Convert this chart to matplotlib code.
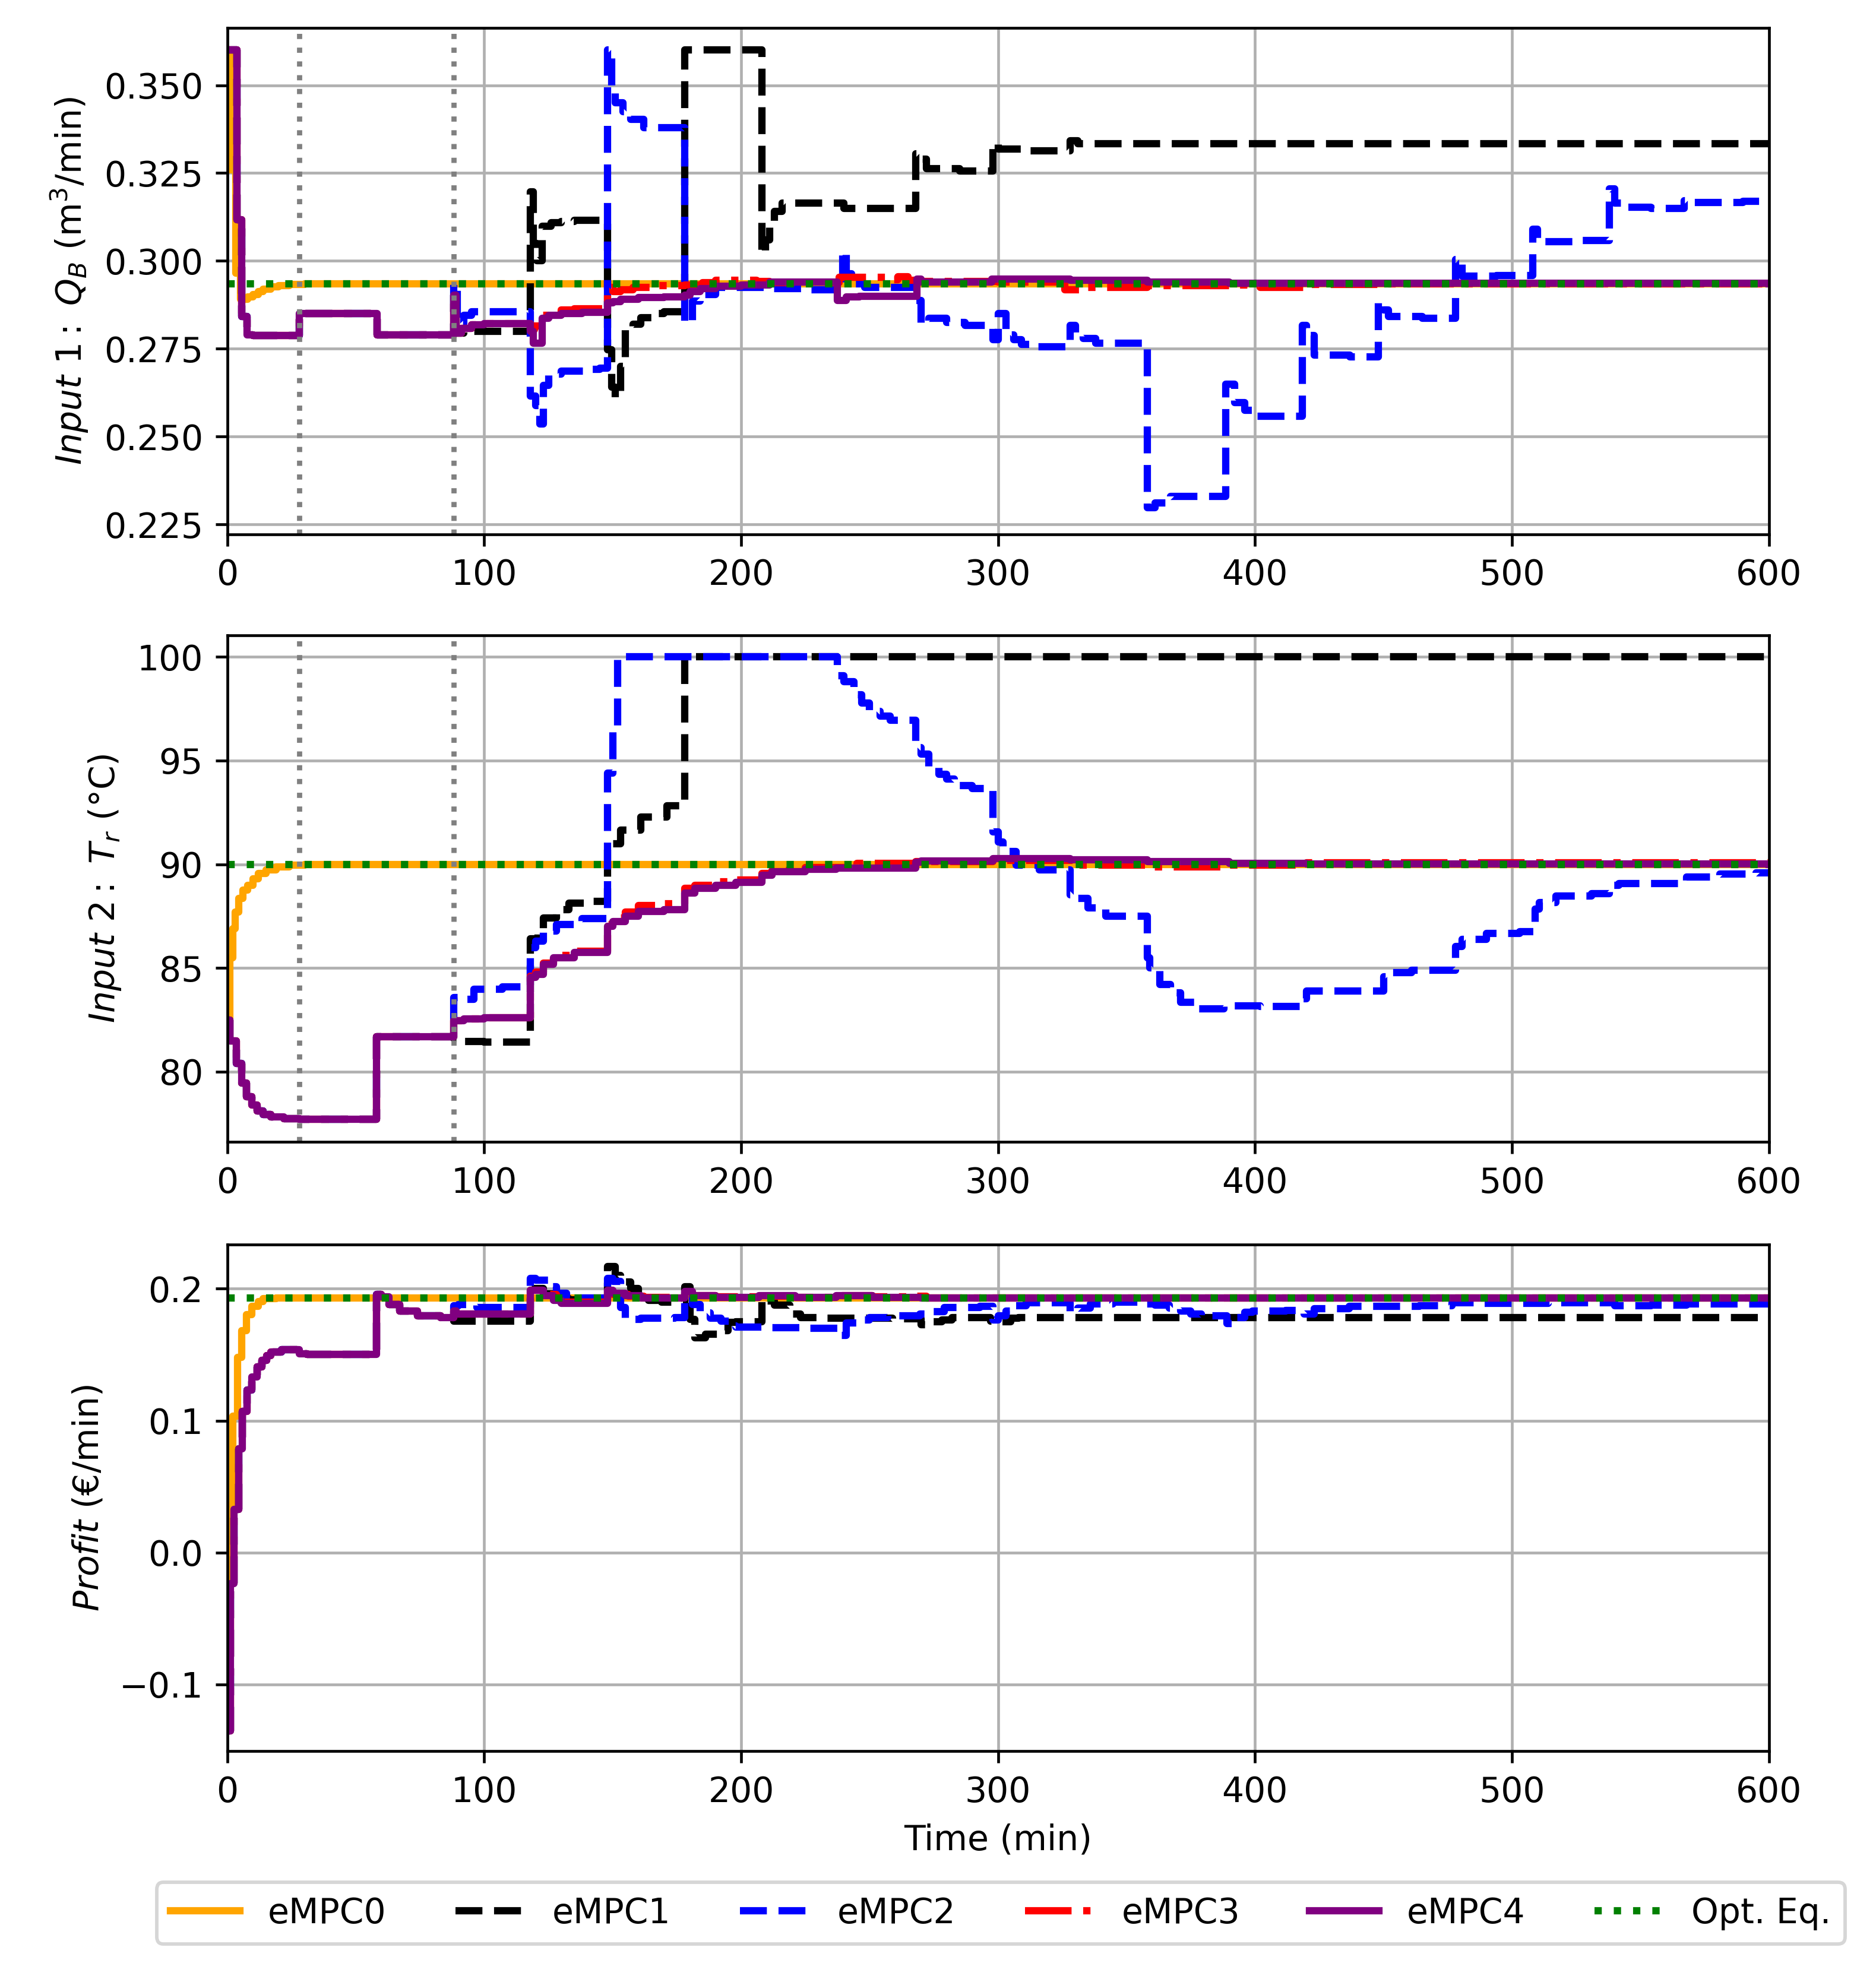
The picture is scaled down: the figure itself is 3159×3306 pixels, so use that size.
import numpy as np
import matplotlib.pyplot as plt

# ---------------- Input 1 : Q_B (m3/min) ----------------
q_opt = 0.2935

q0_t = [0, 1.3, 3.2, 5, 8, 10, 12, 14, 17, 20, 24, 30, 600]
q0_v = [0.360, 0.326, 0.2965, 0.2890, 0.2897, 0.2905, 0.2913, 0.2920, 0.2926, 0.2930, 0.2933, 0.2935, 0.2935]

q4_t = [0, 3.8, 5.5, 7.7, 10, 28, 58.3, 88, 89, 91, 95, 100, 118, 119, 122.5, 125, 130, 138,
        148, 150, 153, 160, 170, 178, 180, 184, 190, 200, 211, 237.5, 241, 246, 268.5, 270,
        297.5, 328, 358, 390, 420, 600]
q4_v = [0.360, 0.3117, 0.2841, 0.2789, 0.2788, 0.2850, 0.2790, 0.2902, 0.2795, 0.2808, 0.2818, 0.2821,
        0.2800, 0.2765, 0.2836, 0.2845, 0.2851, 0.2854, 0.2880, 0.2884, 0.2890, 0.2895, 0.2898,
        0.2903, 0.2912, 0.2922, 0.2928, 0.2932, 0.2940, 0.2888, 0.2897, 0.2900, 0.2949, 0.2940,
        0.2949, 0.2944, 0.2940, 0.2937, 0.2936, 0.2935]

q3_t = [88, 89, 91, 95, 100, 118, 119.5, 122, 125, 130, 135, 148, 150, 153, 158, 165, 178, 185,
        190, 206, 211, 238, 257, 261, 265, 270, 300, 326, 334, 358, 390, 402, 420, 450, 600]
q3_v = [0.2902, 0.2795, 0.2808, 0.2818, 0.2821, 0.2805, 0.2815, 0.2845, 0.2853, 0.2860, 0.2864,
        0.2925, 0.2912, 0.2918, 0.2925, 0.2930, 0.2932, 0.2938, 0.2944, 0.2942, 0.2938, 0.2953,
        0.2946, 0.2955, 0.2945, 0.2942, 0.2940, 0.2918, 0.2925, 0.2930, 0.2932, 0.2925, 0.2933,
        0.2935, 0.2935]

q1_t = [88, 89, 92, 118, 119, 120.5, 122.5, 126, 130, 135, 148, 149.5, 151, 153, 155, 158, 161,
        165, 170, 178, 208, 209.5, 211, 213, 216, 240, 268, 270, 272, 285, 298, 300, 310, 328, 331, 600]
q1_v = [0.2902, 0.2795, 0.2800, 0.3197, 0.3050, 0.3000, 0.3099, 0.3108, 0.3113, 0.3115, 0.2747,
        0.2640, 0.2611, 0.2700, 0.2803, 0.2820, 0.2838, 0.2850, 0.2855, 0.3600, 0.3019, 0.3060,
        0.3113, 0.3141, 0.3164, 0.3150, 0.3305, 0.3290, 0.3263, 0.3256, 0.3333, 0.3319, 0.3314,
        0.3342, 0.3333, 0.3333]

q2_t = [88, 89.5, 92, 95, 118, 120, 121.5, 123, 125, 130, 140, 145, 148, 149.5, 151, 154, 157,
        162, 178, 181, 184, 190, 212, 226, 239.5, 241, 243, 248, 268, 270, 273, 280, 287, 298, 300,
        303, 306, 309, 315, 328, 330, 333, 338, 358, 361, 367, 388.5, 392, 396, 400, 418.5, 420,
        423, 437, 448, 450, 452, 465, 478, 480.5, 494, 508, 510, 513, 524, 538, 540, 543, 554,
        567, 570, 590, 598, 600]
q2_v = [0.2935, 0.2822, 0.2845, 0.2855, 0.2616, 0.2588, 0.2536, 0.2645, 0.2677, 0.2686, 0.2691,
        0.2695, 0.3600, 0.3497, 0.3450, 0.3425, 0.3403, 0.3380, 0.2825, 0.2885, 0.2905, 0.2925,
        0.2921, 0.2918, 0.3028, 0.2963, 0.2935, 0.2925, 0.2888, 0.2822, 0.2836, 0.2825, 0.2817,
        0.2775, 0.2850, 0.2790, 0.2775, 0.2762, 0.2756, 0.2817, 0.2790, 0.2780, 0.2766, 0.2297,
        0.2311, 0.2330, 0.2649, 0.2597, 0.2575, 0.2558, 0.2817, 0.2788, 0.2731, 0.2727, 0.2884,
        0.2860, 0.2841, 0.2837, 0.3004, 0.2956, 0.2958, 0.3090, 0.3060, 0.3054, 0.3058, 0.3206,
        0.3165, 0.3153, 0.3149, 0.3171, 0.3167, 0.3170, 0.3175, 0.3175]

# ---------------- Input 2 : T_r (°C) ----------------
t_opt = 90.0

t0_t = [0, 1, 2, 3, 4.5, 6, 8, 10, 12, 15, 19, 24, 30, 600]
t0_v = [82.5, 85.5, 86.9, 87.7, 88.35, 88.75, 89.0, 89.3, 89.55, 89.72, 89.88, 89.96, 90.0, 90.0]

t4_t = [0, 1, 3.5, 5.5, 7.5, 9.5, 11.5, 14, 17, 22, 28, 58, 88, 92, 100, 118, 120, 123, 127, 135,
        148, 150, 155, 160, 170, 178, 182, 190, 198, 208, 212, 225, 237, 268, 270, 298, 328, 358,
        390, 420, 600]
t4_v = [82.5, 81.5, 80.4, 79.45, 78.8, 78.4, 78.1, 77.93, 77.82, 77.75, 77.72, 81.7, 82.45, 82.55,
        82.6, 84.55, 84.7, 85.18, 85.5, 85.74, 87.0, 87.25, 87.5, 87.73, 87.8, 88.6, 88.84, 89.0,
        89.12, 89.48, 89.64, 89.77, 89.83, 90.1, 90.15, 90.28, 90.23, 90.12, 90.05, 90.02, 90.0]

t3_t = [88, 92, 100, 118, 120, 123, 127, 135, 148, 150, 155, 160, 170, 178, 182, 190, 198, 208,
        212, 225, 245, 268, 298, 330, 358, 390, 420, 600]
t3_v = [82.45, 82.55, 82.6, 84.6, 84.8, 85.25, 85.6, 85.82, 87.1, 87.4, 87.7, 88.0, 88.1, 88.85,
        89.0, 89.15, 89.24, 89.55, 89.7, 89.85, 90.05, 90.12, 90.2, 89.95, 89.88, 89.95, 90.08, 90.08]

t1_t = [88, 92, 100, 118, 121, 123, 128, 133, 140, 148, 150, 153, 161, 171, 178, 600]
t1_v = [81.6, 81.45, 81.43, 86.4, 86.7, 87.4, 87.8, 88.14, 88.21, 90.84, 91.0, 91.64, 92.27, 92.83,
        100.0, 100.0]

t2_t = [88, 90, 96, 107, 118, 120, 123, 128, 138, 148, 150, 152, 237.5, 240, 244, 247, 250, 254,
        258, 268, 270, 273, 277, 280, 283, 290, 298, 300, 302, 307, 316, 328, 331, 335, 342, 358,
        359, 363, 367, 371, 378, 388, 402, 417.6, 420, 450, 452, 461, 478, 480.5, 490, 503, 509,
        510.7, 517, 531, 538, 541.5, 568, 581, 595, 600]
t2_v = [83.58, 83.5, 83.98, 84.1, 85.98, 86.3, 86.77, 87.1, 87.38, 94.4, 96.5, 100.0, 99.1, 98.8,
        98.17, 97.77, 97.37, 97.13, 96.94, 95.62, 95.3, 94.66, 94.34, 94.1, 93.78, 93.66, 91.55,
        91.08, 90.63, 89.96, 89.72, 88.53, 88.37, 87.89, 87.49, 85.5, 85.02, 84.22, 83.82, 83.35,
        83.03, 83.19, 83.15, 83.53, 83.89, 84.59, 84.78, 84.88, 86.05, 86.38, 86.66, 86.76, 87.85,
        88.17, 88.48, 88.58, 88.99, 89.07, 89.4, 89.53, 89.59, 89.59]

# ---------------- Profit (€/min) ----------------
p_opt = 0.193

p0_t = [0, 0.9, 2, 4, 5.5, 7.5, 9.5, 12, 14, 19, 600]
p0_v = [-0.135, 0.036, 0.1035, 0.148, 0.168, 0.1806, 0.1868, 0.1905, 0.1925, 0.193, 0.193]

p4_t = [0, 1.3, 2.6, 4.5, 5.8, 7.7, 9.6, 11.5, 13.5, 15.4, 17, 21, 28, 31, 58, 60, 63, 67, 74, 83,
        88, 89, 118, 123, 127, 130, 148, 150, 155, 161, 178, 181, 190, 207, 221, 237, 251, 270, 600]
p4_v = [-0.1353, -0.0234, 0.0326, 0.0786, 0.1072, 0.1234, 0.1333, 0.1408, 0.1458, 0.1495, 0.152,
        0.1537, 0.1507, 0.150, 0.1955, 0.194, 0.188, 0.183, 0.1793, 0.178, 0.183, 0.181, 0.199,
        0.195, 0.191, 0.189, 0.199, 0.1965, 0.195, 0.193, 0.198, 0.195, 0.1935, 0.1950, 0.1935,
        0.1950, 0.1935, 0.193, 0.193]

p3_t = [88, 89, 118, 123, 128, 130, 148, 150, 156, 162, 178, 182, 190, 207, 221, 237, 251, 268,
        272, 600]
p3_v = [0.183, 0.181, 0.199, 0.1955, 0.192, 0.190, 0.1975, 0.1955, 0.1945, 0.1935, 0.197, 0.195,
        0.194, 0.1945, 0.1935, 0.1948, 0.1937, 0.1942, 0.193, 0.193]

p1_t = [88, 118, 123, 128, 133, 148, 151, 153, 157, 160, 164, 169, 178, 180, 182, 186, 192, 195,
        198, 208, 210, 213, 219, 223, 230, 259, 270, 274, 278, 282, 297, 300, 305, 308, 600]
p1_v = [0.1756, 0.200, 0.196, 0.1925, 0.1915, 0.2167, 0.210, 0.205, 0.200, 0.196, 0.191, 0.190,
        0.2017, 0.177, 0.163, 0.1657, 0.168, 0.1744, 0.175, 0.1925, 0.1907, 0.1877, 0.181, 0.178,
        0.1777, 0.1773, 0.1728, 0.175, 0.1765, 0.178, 0.1755, 0.175, 0.1775, 0.1783, 0.1783]

p2_t = [88, 90, 97, 110, 118, 120, 125, 128, 132, 135, 148, 150, 153, 155, 161, 174, 178, 181,
        184, 188, 192, 196, 198, 210, 223, 239, 241, 245, 250, 257, 269.5, 273, 279, 293, 298,
        300, 303, 306, 311, 328, 331, 336, 344.7, 357, 361, 366.7, 371, 375, 379, 389, 393, 396,
        399, 412, 419, 423, 436.6, 464, 476.6, 489, 514, 540, 554, 568, 600]
p2_v = [0.187, 0.188, 0.186, 0.1856, 0.208, 0.2067, 0.2017, 0.1968, 0.194, 0.193, 0.208, 0.2055,
        0.1856, 0.177, 0.1776, 0.178, 0.195, 0.188, 0.1818, 0.1775, 0.1756, 0.172, 0.1709, 0.1703,
        0.1698, 0.1646, 0.174, 0.1765, 0.178, 0.1795, 0.181, 0.1825, 0.1858, 0.1867, 0.1765,
        0.1795, 0.183, 0.187, 0.1892, 0.1825, 0.1855, 0.1885, 0.190, 0.1885, 0.1875, 0.1855,
        0.183, 0.181, 0.1795, 0.1735, 0.178, 0.182, 0.1833, 0.1835, 0.181, 0.1848, 0.1867,
        0.1873, 0.1892, 0.1888, 0.1895, 0.1873, 0.1877, 0.1885, 0.1885]

switch_times = [28, 88]
labels = ['eMPC0', 'eMPC1', 'eMPC2', 'eMPC3', 'eMPC4', 'Opt. Eq.']
colors = ['orange', 'black', 'blue', 'red', 'purple', 'green']
styles = ['-', '--', '--', '-.', '-', ':']


def with_prefix(t_ref, v_ref, t, v):
    # eMPC1-3 coincide with eMPC4 before the second switch
    pre = [(a, b) for a, b in zip(t_ref, v_ref) if a < t[0]]
    return [a for a, _ in pre] + list(t), [b for _, b in pre] + list(v)


panels = [
    (q0_t, q0_v, q1_t, q1_v, q2_t, q2_v, q3_t, q3_v, q4_t, q4_v, q_opt),
    (t0_t, t0_v, t1_t, t1_v, t2_t, t2_v, t3_t, t3_v, t4_t, t4_v, t_opt),
    (p0_t, p0_v, p1_t, p1_v, p2_t, p2_v, p3_t, p3_v, p4_t, p4_v, p_opt),
]
ylabels = [r'$Input\ 1:\ Q_B$ (m$^3$/min)', r'$Input\ 2:\ T_r$ (°C)', r'$Profit$ (€/min)']
ylims = [(0.2222, 0.3664), (76.62, 101.03), (-0.1505, 0.2335)]

fig = plt.figure(figsize=(3159 / 420, 3306 / 420))
bottoms = [0.7279, 0.4183, 0.108]
axes = [fig.add_axes([0.1212, b, 0.8217, 0.258]) for b in bottoms]

for k, ax in enumerate(axes):
    d = panels[k]
    series = [(d[0], d[1])]
    for j in (2, 4, 6):
        series.append(with_prefix(d[8], d[9], d[j], d[j + 1]))
    series.append((d[8], d[9]))
    series.append(([0, 600], [d[10], d[10]]))
    for (tt, vv), lab, c, ls in zip(series, labels, colors, styles):
        ax.plot(tt, vv, drawstyle='steps-post', color=c, ls=ls, lw=2.1, label=lab)
    if k < 2:
        for s in switch_times:
            ax.axvline(s, color='gray', ls=':', lw=1.5)
    ax.set_xlim(0, 600)
    ax.set_ylim(*ylims[k])
    ax.set_ylabel(ylabels[k])
    ax.grid(True)

axes[0].set_yticks([0.225, 0.250, 0.275, 0.300, 0.325, 0.350])
axes[0].set_yticklabels(['0.225', '0.250', '0.275', '0.300', '0.325', '0.350'])
axes[2].set_xlabel('Time (min)')

handles, labs = axes[2].get_legend_handles_labels()
fig.legend(handles, labs, loc='lower center', ncol=6, bbox_to_anchor=(0.5335, 0.0097),
           borderaxespad=0)

fig.savefig('out.png', dpi=420)
